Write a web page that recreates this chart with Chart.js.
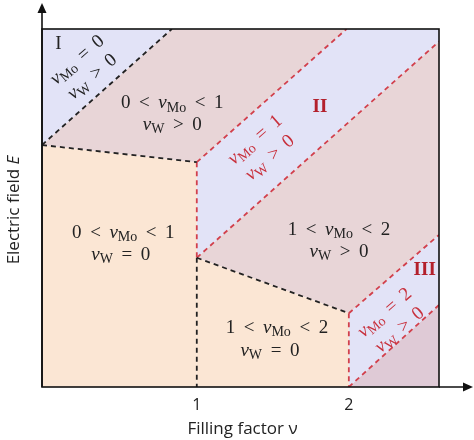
<!DOCTYPE html>
<html><head><meta charset="utf-8">
<script src="https://cdn.jsdelivr.net/npm/chart.js@4.4.0/dist/chart.umd.min.js"></script>
<style>html,body{margin:0;padding:0;background:#fff}#w{width:474px;height:440px}</style>
</head><body><div id="w"><canvas id="c"></canvas></div>
<script>
// ---- data (filling factor nu, electric field E in arbitrary units 0..10) ----
const xMin = -0.018, xMax = 2.593, yMin = 0, yMax = 10;
const xTicks = [1, 2];
const tickLabels = ['1', '2'];
const regionI      = [[xMin,6.76],[xMin,10],[0.836,10]];
const regionA      = [[xMin,6.76],[0.836,10],[1.985,10],[1,6.28]];
const regionB      = [[xMin,0],[xMin,6.76],[1,6.28],[1,0]];
const regionC      = [[1,0],[1,3.61],[2,2.06],[2,0]];
const regionII     = [[1,6.28],[1.985,10],[xMax,10],[xMax,9.65],[1,3.61]];
const regionD      = [[1,3.61],[xMax,9.65],[xMax,4.25],[2,2.06]];
const regionIII    = [[2,2.06],[xMax,4.25],[xMax,2.29],[2,0]];
const regionCorner = [[2,0],[xMax,2.29],[xMax,0]];
const blackLines = [
  [[xMin,6.76],[0.836,10]],
  [[xMin,6.76],[1,6.28]],
  [[1,3.61],[1,0]],
  [[1,3.61],[2,2.06]]
];
const redLines = [
  [[1,6.28],[1.985,10]],
  [[1,6.28],[1,3.61]],
  [[1,3.61],[xMax,9.65]],
  [[2,2.06],[2,0]],
  [[2,2.06],[xMax,4.25]],
  [[2,0],[xMax,2.29]]
];
// labels: [text, x, y, rotationDeg, color, size, bold]
const labels = [
  ['I', 0.09, 9.58, 0, '#222', 19, false],
  ['ν_{Mo} = 0', 0.214, 9.13, -41, '#222', 19, false],
  ['ν_{W} > 0', 0.313, 8.66, -41, '#222', 19, false],
  ['0 < ν_{Mo} < 1', 0.839, 7.93, 0, '#222', 19, false],
  ['ν_{W} > 0', 0.839, 7.32, 0, '#222', 19, false],
  ['II', 1.81, 7.82, 0, '#b3202c', 19, true],
  ['ν_{Mo} = 1', 1.384, 6.90, -41, '#c8303c', 19, false],
  ['ν_{W} > 0', 1.481, 6.40, -41, '#c8303c', 19, false],
  ['0 < ν_{Mo} < 1', 0.517, 4.30, 0, '#222', 19, false],
  ['ν_{W} = 0', 0.50, 3.69, 0, '#222', 19, false],
  ['1 < ν_{Mo} < 2', 1.935, 4.39, 0, '#222', 19, false],
  ['ν_{W} > 0', 1.935, 3.77, 0, '#222', 19, false],
  ['III', 2.499, 3.27, 0, '#b3202c', 19, true],
  ['ν_{Mo} = 2', 2.236, 2.07, -41, '#c8303c', 19, false],
  ['ν_{W} > 0', 2.335, 1.59, -41, '#c8303c', 19, false],
  ['1 < ν_{Mo} < 2', 1.527, 1.65, 0, '#222', 19, false],
  ['ν_{W} = 0', 1.481, 1.01, 0, '#222', 19, false]
];
const xTitle = 'Filling factor ν';
const yTitle = ['Electric field ', 'E'];

const pts = a => a.map(p => ({x:p[0], y:p[1]}));
const fillDs = (a, c) => ({data: pts(a), showLine:true, fill:'shape', backgroundColor:c, borderWidth:0, pointRadius:0, order:2});
const lineDs = (a, c) => ({data: pts(a), showLine:true, fill:false, borderColor:c, borderWidth:1.8, borderDash:[5,4], pointRadius:0, order:1});
const datasets = [
  fillDs(regionI, '#e2e3f7'), fillDs(regionA, '#e8d5d7'), fillDs(regionB, '#fbe6d4'),
  fillDs(regionC, '#fbe6d4'), fillDs(regionII, '#e2e3f7'), fillDs(regionD, '#e8d5d7'),
  fillDs(regionIII, '#e2e3f7'), fillDs(regionCorner, '#dfcad6'),
  ...blackLines.map(l => lineDs(l, '#222')),
  ...redLines.map(l => lineDs(l, '#d2404c'))
];

function drawRich(ctx, str, size, bold, color) {
  const segs = [];
  const re = /_\{([^}]*)\}/g; let last = 0, m;
  while ((m = re.exec(str))) { segs.push({t: str.slice(last, m.index), sub:false}); segs.push({t:m[1], sub:true}); last = re.lastIndex; }
  segs.push({t: str.slice(last), sub:false});
  const parts = [];
  segs.forEach(s => {
    if (s.sub) parts.push({t:s.t, font:`${Math.round(size*0.72)}px "Liberation Serif"`, dy:size*0.25});
    else s.t.split(/(ν)/).forEach(t => { if (t) parts.push({t: t.replace(/ /g,'\u2009 '), font:(t==='ν'?'italic ':'')+(bold?'bold ':'')+`${size}px "Liberation Serif"`, dy:0}); });
  });
  let w = 0; parts.forEach(p => { ctx.font = p.font; p.w = ctx.measureText(p.t).width; w += p.w; });
  let x = -w/2; ctx.fillStyle = color; ctx.textBaseline = 'middle'; ctx.textAlign = 'left';
  parts.forEach(p => { ctx.font = p.font; ctx.fillText(p.t, x, p.dy); x += p.w; });
}

const deco = {
  id:'deco',
  afterDatasetsDraw(chart) {
    const ctx = chart.ctx, xs = chart.scales.x, ys = chart.scales.y, a = chart.chartArea;
    ctx.save();
    labels.forEach(l => {
      ctx.save(); ctx.translate(xs.getPixelForValue(l[1]), ys.getPixelForValue(l[2]));
      ctx.rotate(l[3]*Math.PI/180); drawRich(ctx, l[0], l[5], l[6], l[4]); ctx.restore();
    });
    ctx.strokeStyle = '#111'; ctx.lineWidth = 1.6;
    ctx.strokeRect(a.left, a.top, a.right - a.left, a.bottom - a.top);
    ctx.beginPath(); ctx.moveTo(a.left, a.bottom); ctx.lineTo(a.left, 8); ctx.moveTo(a.right, a.bottom); ctx.lineTo(466, a.bottom); ctx.stroke();
    ctx.fillStyle = '#111';
    ctx.beginPath(); ctx.moveTo(a.left, 3); ctx.lineTo(a.left-4.5, 13); ctx.lineTo(a.left+4.5, 13); ctx.closePath(); ctx.fill();
    ctx.beginPath(); ctx.moveTo(473, a.bottom); ctx.lineTo(463, a.bottom-4.5); ctx.lineTo(463, a.bottom+4.5); ctx.closePath(); ctx.fill();
    ctx.fillStyle = '#222'; ctx.font = '16px "Open Sans"'; ctx.textAlign = 'center'; ctx.textBaseline = 'middle';
    xTicks.forEach((t, i) => ctx.fillText(tickLabels[i], xs.getPixelForValue(t), 405));
    ctx.font = '17px "Open Sans"'; ctx.fillText(xTitle, (a.left + a.right)/2 + 2, 429);
    ctx.save(); ctx.translate(14, 210); ctx.rotate(-Math.PI/2);
    ctx.font = '17px "Open Sans"'; const w1 = ctx.measureText(yTitle[0]).width;
    ctx.font = 'italic 17px "Open Sans"'; const w2 = ctx.measureText(yTitle[1]).width;
    ctx.textAlign = 'left';
    ctx.font = '17px "Open Sans"'; ctx.fillText(yTitle[0], -(w1+w2)/2, 0);
    ctx.font = 'italic 17px "Open Sans"'; ctx.fillText(yTitle[1], -(w1+w2)/2 + w1, 0);
    ctx.restore();
    ctx.restore();
  }
};

new Chart(document.getElementById('c'), {
  type:'scatter',
  data:{datasets},
  options:{
    responsive:true, maintainAspectRatio:false, animation:false,
    layout:{padding:{left:42, right:35, top:29, bottom:53}},
    plugins:{legend:{display:false}, tooltip:{enabled:false}},
    scales:{
      x:{type:'linear', min:xMin, max:xMax, display:false},
      y:{type:'linear', min:yMin, max:yMax, display:false}
    }
  },
  plugins:[deco]
});
</script></body></html>
